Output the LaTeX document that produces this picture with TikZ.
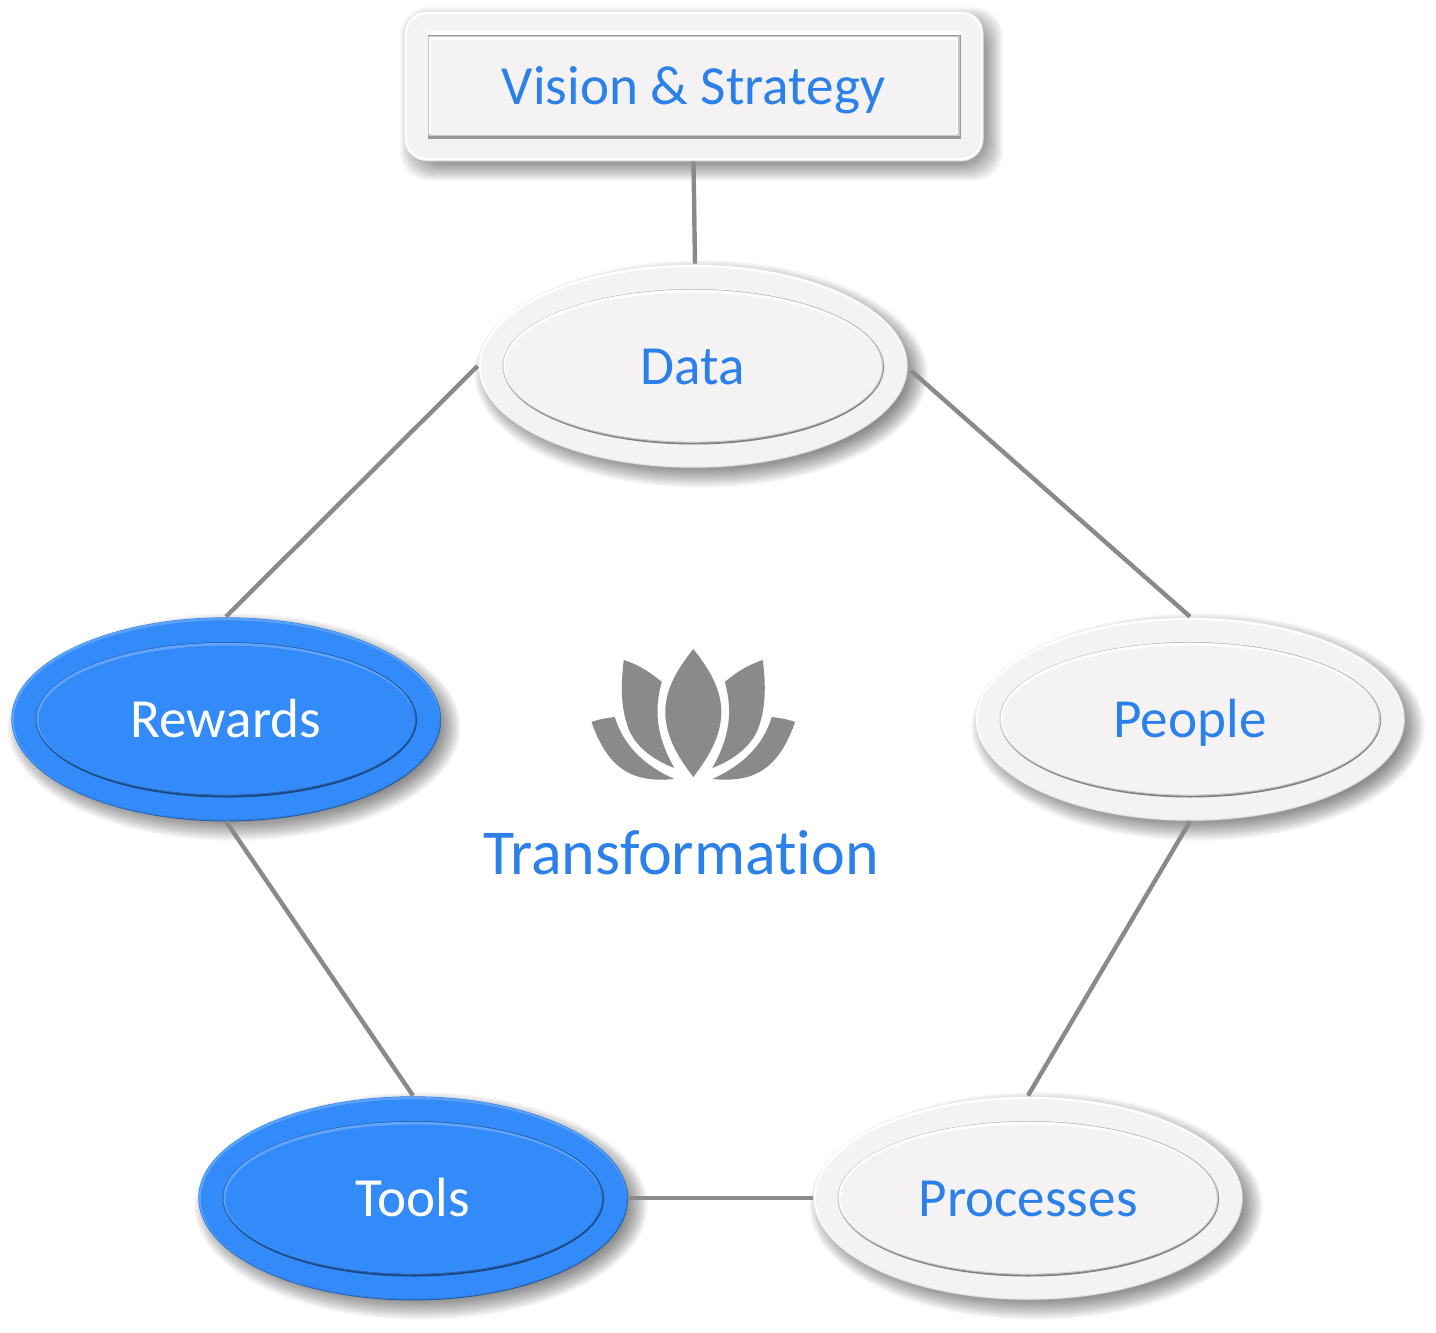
\documentclass[tikz,border=0pt]{standalone}
\usepackage{fontspec}
\setmainfont{Carlito}[Ligatures=NoCommon]
\usetikzlibrary{shapes.geometric,calc}
\definecolor{inkblue}{HTML}{2B80EA}
\definecolor{linegrey}{HTML}{8A8A8A}
\definecolor{paper}{HTML}{F4F2F3}
\definecolor{vivid}{HTML}{338BFA}
\newcommand{\greyset}{\colorlet{rimd}{black!35}\colorlet{rimm}{black!10}\colorlet{riml}{white}\colorlet{face}{paper}\colorlet{ind}{black!50}\colorlet{inm}{black!22}\colorlet{inl}{white}\colorlet{word}{inkblue}}
\newcommand{\blueset}{\colorlet{rimd}{vivid!62!black}\colorlet{rimm}{vivid!92!black}\colorlet{riml}{vivid!80!white}\colorlet{face}{vivid}\colorlet{ind}{vivid!50!black}\colorlet{inm}{vivid!72!black}\colorlet{inl}{vivid!78!white}\colorlet{word}{white}}
\newcommand{\ovalnode}[4]{%
  \foreach \k in {0,...,23}{
    \fill[black,opacity=0.024] ($(#2,#3)+(8,8)$) ellipse [x radius={227-\k},y radius={114-\k}];
  }
  \fill[rimd] (#2+0.6,#3+0.8) ellipse [x radius=214.5,y radius=101.6];
  \fill[rimm] (#2,#3) ellipse [x radius=214.7,y radius=101.7];
  \fill[riml] (#2-0.4,#3-0.6) ellipse [x radius=213.7,y radius=100.6];
  \fill[face] (#2+0.5,#3+0.9) ellipse [x radius=212.6,y radius=99.6];
  \fill[ind] (#2+0.6,#3+0.9) ellipse [x radius=190.5,y radius=77.6];
  \fill[inm] (#2,#3) ellipse [x radius=190.5,y radius=76.8];
  \fill[inl] (#2-0.5,#3-0.4) ellipse [x radius=189,y radius=75.8];
  \fill[face] (#2+0.5,#3+1) ellipse [x radius=188.2,y radius=74.4];
  \node[ovalbox,text=word] (#1) at (#2,#3) {#4};
}
\tikzset{
  x=0.5pt,y=-0.5pt,
  ovalbox/.style={ellipse,inner sep=0pt,minimum width=215pt,minimum height=102pt,text height=20.5pt,text depth=2pt,font=\fontsize{27.6}{33}\selectfont},
  rectbox/.style={rectangle,inner sep=0pt,minimum width=289.5pt,minimum height=75pt,text height=20pt,text depth=1.5pt,text=inkblue,font=\fontsize{27.6}{33}\selectfont},
  link/.style={draw=linegrey,line width=2.2pt},
  lotus/.style={fill=linegrey,draw=none},
  caption/.style={inner sep=0pt,text=inkblue,font=\fontsize{32}{38}\selectfont}
}
\begin{document}
\begin{tikzpicture}
\useasboundingbox (0,0) rectangle (1436,1333);
\fill[white] (0,0) rectangle (1436,1333);
% Vision box
\foreach \k in {0,...,23}{
  \fill[black,opacity=0.024,rounded corners=14pt] (400+\k,7+\k) rectangle (1003-\k,181-\k);
}
\fill[black!32,rounded corners=11pt] (405,12) rectangle (984,162);
\fill[black!10,rounded corners=11pt] (404,11) rectangle (983.5,161);
\fill[white,rounded corners=10.5pt] (405,12) rectangle (982.5,160);
\fill[paper,rounded corners=10pt] (407,14) rectangle (981,158);
\fill[white] (427,31) rectangle (961,35);
\fill[black!40] (428,34.5) rectangle (961,139);
\fill[black!22] (427.5,35.5) rectangle (959.5,136);
\fill[white] (429,36.5) rectangle (958,134);
\fill[paper] (431,40) rectangle (957,134.5);
\node[rectbox] (vision) at (693.5,86) {Vision \& Strategy};
% Ovals
\greyset
\ovalnode{data}{693}{366}{Data}
\ovalnode{people}{1190}{719}{People}
\ovalnode{processes}{1028}{1198}{Processes}
\blueset
\ovalnode{rewards}{226}{719}{Rewards}
\ovalnode{tools}{413}{1198}{Tools}
% Connectors
\draw[link] (vision.south) -- ($(data.north)+(2,0)$);
\draw[link] (data.west) -- (rewards.north);
\draw[link] ($(data.east)+(3,5)$) -- (people.north);
\draw[link] (people.south) -- (processes.north);
\draw[link] (rewards.south) -- (tools.north);
\draw[link] (tools.east) -- (processes.west);
% Lotus
\begin{scope}[shift={(693.3,0)}]
  \fill[lotus] (0,649) .. controls (-15,668) and (-28,688) .. (-28,712) .. controls (-28,738) and (-13,760) .. (0,777) .. controls (13,760) and (28,738) .. (28,712) .. controls (28,688) and (15,668) .. (0,649) -- cycle;
  \foreach \s in {1,-1}{
    \begin{scope}[xscale=\s]
      \fill[lotus] (-69.5,660) .. controls (-54,665) and (-42,673) .. (-31.5,682) .. controls (-40,712) and (-36,738) .. (-19,768) .. controls (-45,758) and (-62,742) .. (-67,722) .. controls (-73,702) and (-72,680) .. (-69.5,660) -- cycle;
      \fill[lotus] (-101.8,722) .. controls (-94,719) and (-86,718) .. (-78.5,717) .. controls (-70,745) and (-50,765) .. (-19,779) .. controls (-60,783) and (-85,770) .. (-101.8,722) -- cycle;
    \end{scope}
  }
\end{scope}
\node[caption] (title) at (681,853) {Transformation};
\end{tikzpicture}
\end{document}
